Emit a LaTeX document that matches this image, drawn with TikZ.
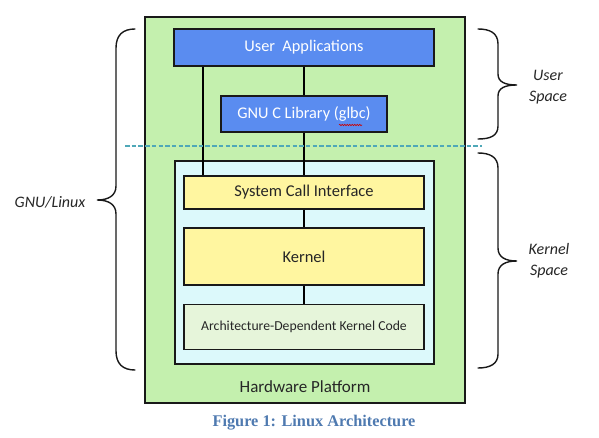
\documentclass[tikz,border=0pt]{standalone}
\usepackage{fontspec}
\setmainfont{Carlito}
\newfontfamily\capfont{Liberation Serif}
\usetikzlibrary{decorations.pathmorphing}
\definecolor{outergreen}{HTML}{C4F0AE}
\definecolor{ublue}{HTML}{5A8CF0}
\definecolor{kcyan}{HTML}{DCF9FB}
\definecolor{kyellow}{HTML}{FFF6A0}
\definecolor{archgreen}{HTML}{E6F5DA}
\definecolor{dashteal}{HTML}{4FA8B8}
\definecolor{captionblue}{HTML}{4F7AB0}
\definecolor{textgray}{HTML}{262626}
\tikzset{
  box/.style={draw=black!90, line width=1.5pt, inner sep=0pt, text=textgray},
  bluebox/.style={box, fill=ublue, text=white},
  link/.style={line width=2.4pt, black},
  bracestyle/.style={line width=1.4pt, black!90, line cap=round},
  sidelabel/.style={font=\itshape\fontsize{16}{21}\selectfont, text=textgray, align=center}
}
\begin{document}
\begin{tikzpicture}[x=1pt,y=-1pt]
\useasboundingbox (0,0) rectangle (599,438);
% outer platform
\node[box, fill=outergreen, minimum width=320pt, minimum height=386pt] (hw) at (305,210) {};
\node[font=\fontsize{17}{20}\selectfont, text=textgray] (hwlabel) at (305,387) {Hardware Platform};
% kernel space container
\node[box, fill=kcyan, minimum width=259pt, minimum height=203pt] (ks) at (304.5,262.5) {};
% boxes
\node[bluebox, minimum width=260pt, minimum height=37pt, font=\fontsize{16.3}{19}\selectfont] (ua) at (304,47.5) {User\ \ Applications};
\node[bluebox, minimum width=166pt, minimum height=36pt, font=\fontsize{16.3}{19}\selectfont] (glibc) at (304,114) {GNU C Library (glbc)};
\node[box, fill=kyellow, minimum width=240pt, minimum height=33pt, font=\fontsize{16.5}{19}\selectfont] (sci) at (304,192.5) {System Call Interface};
\node[box, fill=kyellow, minimum width=240pt, minimum height=57pt, font=\fontsize{16.5}{19}\selectfont] (kernel) at (304,256.5) {Kernel};
\node[box, fill=archgreen, minimum width=240pt, minimum height=45pt, font=\fontsize{13.7}{16}\selectfont] (arch) at (304,327) {Architecture-Dependent Kernel Code};
% spell-check squiggle under glbc
\draw[red!80!black, line width=0.6pt, decorate, decoration={snake, amplitude=0.7pt, segment length=2.5pt}] (339,125) -- (362,125);
% connectors
\coordinate (lx) at (203,0);
\draw[link] (ua.south -| lx) -- (sci.north -| lx);
\draw[link] (ua.south) -- (glibc.north);
\draw[link] (glibc.south) -- (sci.north);
\draw[link] (sci.south) -- (kernel.north);
\draw[link] (kernel.south) -- (arch.north);
% user/kernel boundary
\draw[dashteal, line width=1.1pt, dash pattern=on 4.5pt off 2.2pt] (125,146) -- (482,146);
% left brace GNU/Linux
\draw[bracestyle] (135,29) .. controls (123,29) and (116,35) .. (116,48) -- (116,186)
  .. controls (116,196) and (108,200) .. (97,200)
  .. controls (108,200) and (116,204) .. (116,214) -- (116,351)
  .. controls (116,364) and (123,370) .. (135,370);
\node[sidelabel] (gnu) at (50,202) {GNU/Linux};
% right brace user space
\draw[bracestyle] (478,29) .. controls (490,29) and (498,33) .. (498,44) -- (498,74)
  .. controls (498,82) and (505,85) .. (517,85)
  .. controls (505,85) and (498,88) .. (498,96) -- (498,126)
  .. controls (498,136) and (490,139) .. (478,139);
\node[sidelabel] (us) at (548,87) {User\\Space};
% right brace kernel space
\draw[bracestyle] (478,153) .. controls (490,153) and (498,157) .. (498,168) -- (498,248)
  .. controls (498,257) and (505,261) .. (517,261)
  .. controls (505,261) and (498,265) .. (498,274) -- (498,354)
  .. controls (498,364) and (490,368) .. (478,368);
\node[sidelabel] (kspace) at (549,261) {Kernel\\Space};
% caption
\node[font=\capfont\bfseries\fontsize{16.3}{19}\selectfont, text=captionblue] (caption) at (314,423) {Figure 1: Linux Architecture};
\end{tikzpicture}
\end{document}
